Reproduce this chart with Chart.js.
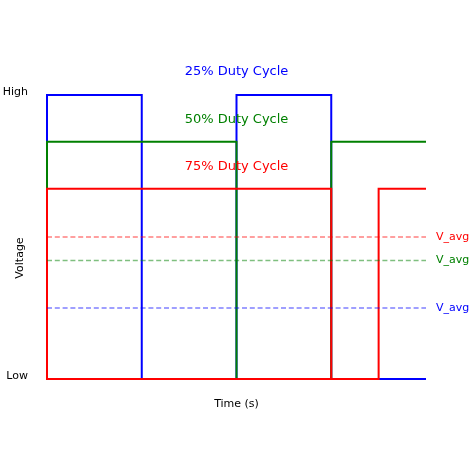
<!DOCTYPE html>
<html>
<head>
<meta charset="utf-8">
<script src="https://cdn.jsdelivr.net/npm/chart.js@4.4.1/dist/chart.umd.min.js"></script>
<style>
  html, body { margin: 0; padding: 0; background: #ffffff; }
  #wrap { width: 474px; height: 474px; }
</style>
</head>
<body>
<div id="wrap"><canvas id="c" width="474" height="474"></canvas></div>
<script>
// ---- data ----
const seriesNames = ['25% Duty Cycle', '50% Duty Cycle', '75% Duty Cycle'];
const seriesColors = ['#0000ff', '#008000', '#ff0000'];
const dashColors = ['rgba(0,0,255,0.5)', 'rgba(0,128,0,0.5)', 'rgba(255,0,0,0.5)'];

const blueX = [0, 0, 1, 1, 2, 2, 3, 3, 4];
const blueY = [0, 1, 1, 0, 0, 1, 1, 0, 0];
const greenX = [0, 0, 2, 2, 3, 3, 4];
const greenY = [0, 0.835, 0.835, 0, 0, 0.835, 0.835];
const redX = [3, 0, 0, 3, 3, 3.5, 3.5, 4];
const redY = [0, 0, 0.67, 0.67, 0, 0, 0.67, 0.67];

const avgValues = [0.25, 0.417, 0.5];
const avgLabel = 'V_avg';
const avgSpan = [0, 4];
const nameLabelY = [1.081, 0.914, 0.748];
const nameLabelX = 2;
const avgLabelX = 4.105;

const yTickValues = [0, 1];
const yTickLabels = ['Low', 'High'];
const xTitle = 'Time (s)';
const yTitle = 'Voltage';

const xRange = [0, 4];
const yRange = [-0.162, 1.014];

// ---- build ----
const toPts = (xs, ys) => xs.map((x, i) => ({ x: x, y: ys[i] }));
const sigX = [blueX, greenX, redX];
const sigY = [blueY, greenY, redY];

const datasets = [];
for (let i = 0; i < 3; i++) {
  datasets.push({
    label: seriesNames[i],
    data: toPts(sigX[i], sigY[i]),
    borderColor: seriesColors[i],
    backgroundColor: seriesColors[i],
    borderWidth: 2,
    pointRadius: 0,
    showLine: true,
    tension: 0,
    clip: false,
    order: 3 - i
  });
}
for (let i = 0; i < 3; i++) {
  datasets.push({
    label: avgLabel + ' ' + seriesNames[i],
    data: [{ x: avgSpan[0], y: avgValues[i] }, { x: avgSpan[1], y: avgValues[i] }],
    borderColor: dashColors[i],
    borderWidth: 1.5,
    borderDash: [5, 2.8],
    pointRadius: 0,
    showLine: true,
    clip: false,
    order: 0
  });
}

const textPlugin = {
  id: 'textLabels',
  afterDatasetsDraw(chart) {
    const ctx = chart.ctx;
    const xs = chart.scales.x, ys = chart.scales.y;
    ctx.save();
    ctx.textBaseline = 'middle';
    ctx.font = '13px "DejaVu Sans"';
    ctx.textAlign = 'center';
    for (let i = 0; i < 3; i++) {
      ctx.fillStyle = seriesColors[i];
      ctx.fillText(seriesNames[i], xs.getPixelForValue(nameLabelX), ys.getPixelForValue(nameLabelY[i]));
    }
    ctx.font = '11px "DejaVu Sans"';
    ctx.textAlign = 'left';
    for (let i = 0; i < 3; i++) {
      ctx.fillStyle = seriesColors[i];
      ctx.fillText(avgLabel, xs.getPixelForValue(avgLabelX), ys.getPixelForValue(avgValues[i]));
    }
    ctx.restore();
  }
};

Chart.defaults.font.family = '"DejaVu Sans", sans-serif';
Chart.defaults.color = '#000000';

new Chart(document.getElementById('c'), {
  type: 'scatter',
  data: { datasets: datasets },
  options: {
    responsive: false,
    animation: false,
    devicePixelRatio: 1,
    layout: { padding: { left: 0, right: 48, top: 91, bottom: 49 } },
    plugins: { legend: { display: false }, tooltip: { enabled: false } },
    scales: {
      x: {
        type: 'linear',
        min: xRange[0],
        max: xRange[1],
        position: { y: 0 },
        grid: { display: false, drawTicks: false },
        border: { display: false },
        ticks: { display: false },
        title: { display: true, text: xTitle, font: { size: 11 }, color: '#000', padding: { top: 19, bottom: 0 } }
      },
      y: {
        type: 'linear',
        min: yRange[0],
        max: yRange[1],
        grid: { display: false, drawTicks: false },
        border: { display: false },
        afterBuildTicks(scale) { scale.ticks = yTickValues.map(v => ({ value: v })); },
        afterFit(scale) { scale.width = 47; },
        ticks: {
          padding: 19,
          labelOffset: -3,
          font: { size: 11 },
          color: '#000',
          callback(value) { const k = yTickValues.indexOf(value); return k >= 0 ? yTickLabels[k] : ''; }
        },
        title: { display: true, text: yTitle, font: { size: 11 }, color: '#000', padding: { top: 13.4, bottom: 0 } }
      }
    }
  },
  plugins: [textPlugin]
});
</script>
</body>
</html>
